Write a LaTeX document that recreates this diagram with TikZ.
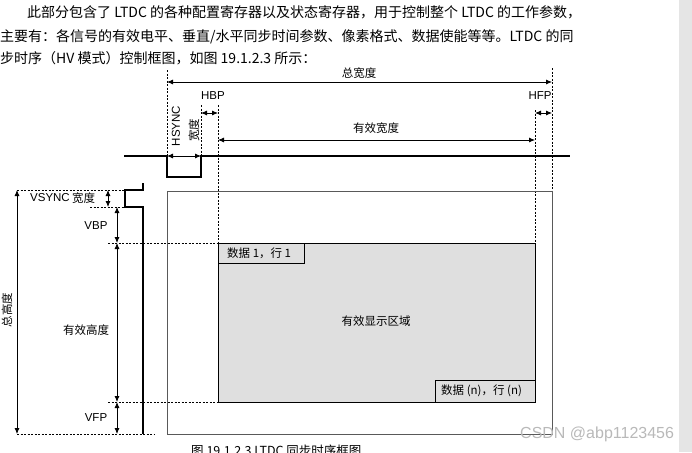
\documentclass[tikz,border=0pt]{standalone}
\usepackage{fontspec}
\setmainfont{Liberation Sans}
\newfontfamily\cjk{Noto Sans CJK SC}
\usetikzlibrary{arrows.meta}
\begin{document}
\begin{tikzpicture}[x=1pt,y=-1pt,
  dim/.style={{Latex[length=6pt,width=5pt]}-{Latex[length=6pt,width=5pt]}, line width=0.8pt},
  guide/.style={dashed, dash pattern=on 2pt off 1.5pt, line width=0.6pt},
  sig/.style={line width=1.6pt},
  lbl/.style={font=\fontsize{11.5}{12}\selectfont, inner sep=1pt},
  clbl/.style={font=\cjk\fontsize{11.5}{12}\selectfont, inner sep=1pt},
  body/.style={font=\cjk\fontsize{14}{15}\selectfont, anchor=west, inner sep=0pt}]
\useasboundingbox (0,0) rectangle (692,452);
\fill[white] (0,0) rectangle (692,452);
\fill[gray!20] (679,0) rectangle (692,452);
% body text
\node[body] (t1) at (27,12) {此部分包含了 LTDC 的各种配置寄存器以及状态寄存器，用于控制整个 LTDC 的工作参数，};
\node[body] (t2) at (0,37) {主要有：各信号的有效电平、垂直/水平同步时间参数、像素格式、数据使能等等。LTDC 的同};
\node[body] (t3) at (0,58) {步时序（HV 模式）控制框图，如图 19.1.2.3 所示：};
% coordinates
\coordinate (a) at (167,70); \coordinate (a2) at (167,156);
\coordinate (b) at (201,105); \coordinate (b2) at (201,156);
\coordinate (c) at (218,105); \coordinate (c2) at (218,243);
\coordinate (d) at (535,110); \coordinate (d2) at (535,243);
\coordinate (e) at (552,68); \coordinate (e2) at (552,191);
\draw[guide] (a) -- (a2); \draw[guide] (b) -- (b2); \draw[guide] (c) -- (c2);
\draw[guide] (d) -- (d2); \draw[guide] (e) -- (e2);
% horizontal dims
\coordinate (w1) at (167,82); \coordinate (w2) at (552,82);
\draw[dim] (w1) -- (w2);
\node[clbl] (zk) at (359,73) {总宽度};
\coordinate (hb1) at (201,113); \coordinate (hb2) at (218,113);
\draw[dim] (hb1) -- (hb2);
\node[lbl] (hbp) at (213,96) {HBP};
\coordinate (hf1) at (535,113); \coordinate (hf2) at (552,113);
\draw[dim] (hf1) -- (hf2);
\node[lbl] (hfp) at (540,96) {HFP};
\coordinate (y1) at (218,140); \coordinate (y2) at (535,140);
\draw[dim] (y1) -- (y2);
\node[clbl] (yxkd) at (376,128) {有效宽度};
\node[lbl, rotate=90] (hs) at (176,126) {HSYNC};
\node[clbl, rotate=90] (hsk) at (194,130) {宽度};
% hsync signal
\coordinate (s0) at (124,156); \coordinate (s1) at (570,156);
\draw[sig] (s0) -- (167,156) -- (167,177) -- (201,177) -- (201,156) -- (s1);
\draw[dim] (a2) -- (b2);
% frame
\draw[gray!70!black, line width=0.9pt] (167,191) rectangle (552,434);
% active area
\draw[fill=gray!25, line width=0.9pt] (218,243) rectangle (535,402);
\node[clbl] (act) at (376,321) {有效显示区域};
\draw[line width=0.9pt] (218,263) -- (304,263) -- (304,243);
\node[clbl, anchor=west] (d1) at (226,253) {数据 1，行 1};
\draw[line width=0.9pt] (435,402) -- (435,380) -- (535,380);
\node[clbl, anchor=west] (dn) at (440,391) {数据 (n)，行 (n)};
% vsync signal
\draw[sig] (143,183) -- (143,190) -- (125,190) -- (125,207) -- (143,207) -- (143,434);
% vertical guides
\draw[guide] (17,190) -- (125,190);
\draw[guide] (90,207) -- (125,207);
\draw[guide] (108,243) -- (c2);
\draw[guide] (108,402) -- (218,402);
\draw[guide] (17,434) -- (155,434);
% vertical dims
\coordinate (v1) at (108,190); \coordinate (v2) at (108,207);
\draw[dim] (v1) -- (v2);
\node[lbl, anchor=east] (vs) at (71,198) {VSYNC};
\node[clbl, anchor=west] (vsk) at (71,198) {宽度};
\coordinate (p1) at (117,207); \coordinate (p2) at (117,243);
\draw[dim] (p1) -- (p2);
\node[lbl] (vbp) at (96,226) {VBP};
\coordinate (q1) at (117,243); \coordinate (q2) at (117,402);
\draw[dim] (q1) -- (q2);
\node[clbl] (yxgd) at (86,330) {有效高度};
\coordinate (r1) at (117,402); \coordinate (r2) at (117,434);
\draw[dim] (r1) -- (r2);
\node[lbl] (vfp) at (96,418) {VFP};
\coordinate (g1) at (17,190); \coordinate (g2) at (17,434);
\draw[dim] (g1) -- (g2);
\node[clbl, rotate=90] (zgd) at (7,310) {总高度};
% caption & watermark
\node[clbl, anchor=west, font=\cjk\fontsize{12.5}{13}\selectfont] (cap) at (190,451) {图 19.1.2.3 LTDC 同步时序框图};
\node[font=\fontsize{16}{17}\selectfont, text=gray!55, anchor=west, inner sep=0pt] (wm) at (520,434) {CSDN @abp1123456};
\end{tikzpicture}
\end{document}
